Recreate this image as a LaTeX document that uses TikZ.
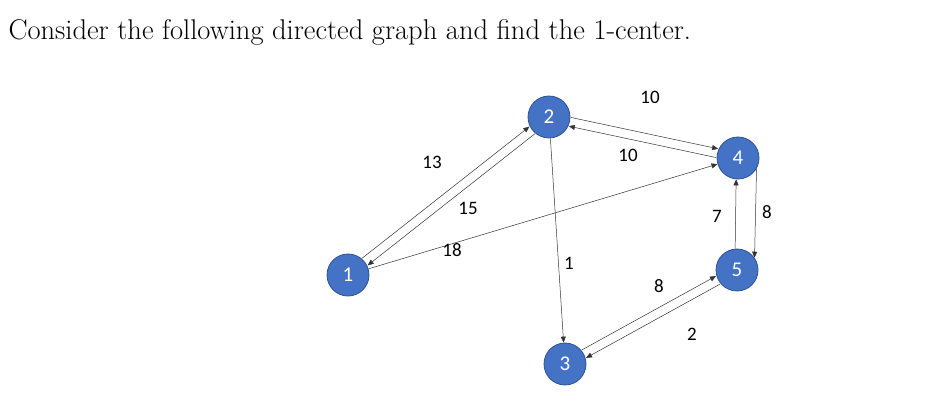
\documentclass[tikz,border=0pt]{standalone}
\usepackage{fontspec}
\newfontfamily\lab{Carlito}
\usetikzlibrary{arrows.meta}
\begin{document}
\begin{tikzpicture}[x=1pt,y=1pt,
  vtx/.style={circle,fill={rgb,255:red,68;green,114;blue,196},draw={rgb,255:red,47;green,82;blue,143},line width=0.8pt,minimum size=42pt,inner sep=0pt,text=white,font=\lab\fontsize{21}{21}\selectfont},
  ed/.style={-{Triangle[length=6pt,width=5pt]},line width=0.5pt,black!80},
  wl/.style={font=\lab\fontsize{19}{19}\selectfont}]
\useasboundingbox (0,0) rectangle (948,410);
\node[anchor=west,font=\fontsize{28.5}{32}\selectfont] (t) at (5,378) {Consider the following directed graph and find the 1-center.};
\node[vtx] (n1) at (348,135) {1};
\node[vtx] (n2) at (549,293) {2};
\node[vtx] (n3) at (565,46) {3};
\node[vtx] (n4) at (738,252) {4};
\node[vtx] (n5) at (737,140) {5};
% 1-2
\draw[ed] ([shift={(128:4.5)}]n1.38) -- ([shift={(128:4.5)}]n2.218);
\draw[ed] ([shift={(-52:4.5)}]n2.218) -- ([shift={(-52:4.5)}]n1.38);
% 1->4
\draw[ed] (n1) -- (n4);
% 2-4
\draw[ed] ([shift={(77:4.5)}]n2.-13) -- ([shift={(77:4.5)}]n4.167);
\draw[ed] ([shift={(-103:4.5)}]n4.167) -- ([shift={(-103:4.5)}]n2.-13);
% 2->3
\draw[ed] (n2) -- (n3);
% 3-5
\draw[ed] ([shift={(118:4.5)}]n3.28) -- ([shift={(118:4.5)}]n5.208);
\draw[ed] ([shift={(-62:4.5)}]n5.208) -- ([shift={(-62:4.5)}]n3.28);
% 4-5
\draw[ed] (n5.95) -- (n4.-95);
\draw[ed] (n4.-30) -- (n5.35);
% labels
\node[wl] (l13) at (432,248) {13};
\node[wl] (l15) at (468,202) {15};
\node[wl] (l18) at (452,160) {18};
\node[wl] (l10a) at (650,313) {10};
\node[wl] (l10b) at (628,255) {10};
\node[wl] (l1) at (569,147) {1};
\node[wl] (l8a) at (659,124) {8};
\node[wl] (l2) at (692,76) {2};
\node[wl] (l7) at (717,194) {7};
\node[wl] (l8b) at (767,198) {8};
\end{tikzpicture}
\end{document}
